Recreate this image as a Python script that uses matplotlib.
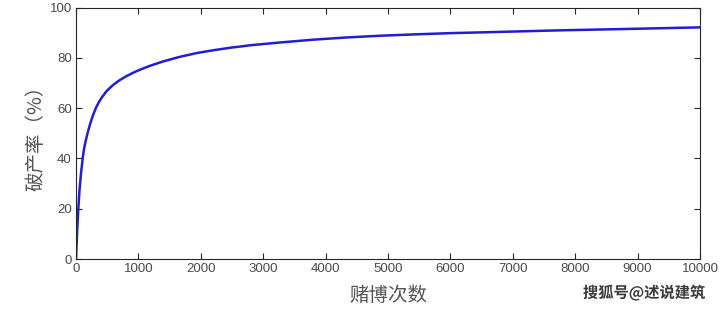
import matplotlib
matplotlib.use("Agg")
import matplotlib.pyplot as plt
import matplotlib.patheffects as pe

plt.rcParams['font.family'] = ['Liberation Sans', 'Noto Sans CJK SC', 'DejaVu Sans']

# Data
steps = [0, 10, 20, 37, 55, 80, 107, 130, 160, 190, 225, 270, 321, 365, 412, 492, 580, 680,
         800, 920, 1000, 1160, 1402, 1650, 1937, 2200, 2472, 2800, 3274, 3800, 4345,
         4900, 5414, 6000, 6485, 7100, 7715, 8300, 8892, 9450, 10000]
ruin = [0, 6, 12, 20, 27, 34, 40, 44, 47.5, 50.5, 53.6, 57, 60.2, 62.3, 64.2, 66.8, 68.9, 70.8,
        72.6, 74.1, 75.0, 76.6, 78.6, 80.3, 81.9, 83.0, 84.0, 85.0, 86.1, 87.2, 88.1,
        88.8, 89.3, 89.8, 90.1, 90.5, 90.9, 91.2, 91.5, 91.8, 92.1]

xticks = list(range(0, 10001, 1000))
yticks = list(range(0, 101, 20))

fig = plt.figure(figsize=(7.2, 3.11), dpi=100)
ax = fig.add_axes([76/720, 1 - 259/311, (700-76)/720, (259-7.5)/311])

ax.plot(steps, ruin, color='#1f1fd0', lw=1.8)

ax.set_xlim(0, 10000)
ax.set_ylim(0, 100)
ax.set_xticks(xticks)
ax.set_yticks(yticks)
ax.tick_params(direction='in', top=True, right=True, length=4, width=0.8,
               colors='#262626', labelsize=9.5, labelcolor='#4a4a4a', pad=3)
for s in ax.spines.values():
    s.set_color('#262626')
    s.set_linewidth(0.8)

ax.set_xlabel('赌博次数', family=['Noto Sans CJK SC', 'DejaVu Sans'], fontsize=14,
              color='#555555', labelpad=7)
ax.set_ylabel('破产率（%）', family=['Noto Sans CJK SC', 'DejaVu Sans'], fontsize=14,
              color='#555555', labelpad=2)

fig.text(644/720, 1 - 293/311, '搜狐号@述说建筑', family=['Noto Sans CJK SC', 'DejaVu Sans'],
         fontsize=11, fontweight='bold', color='#3a3a3a', ha='center', va='center',
         path_effects=[pe.withStroke(linewidth=1.5, foreground='white')])

fig.savefig('out.png', dpi=100)
